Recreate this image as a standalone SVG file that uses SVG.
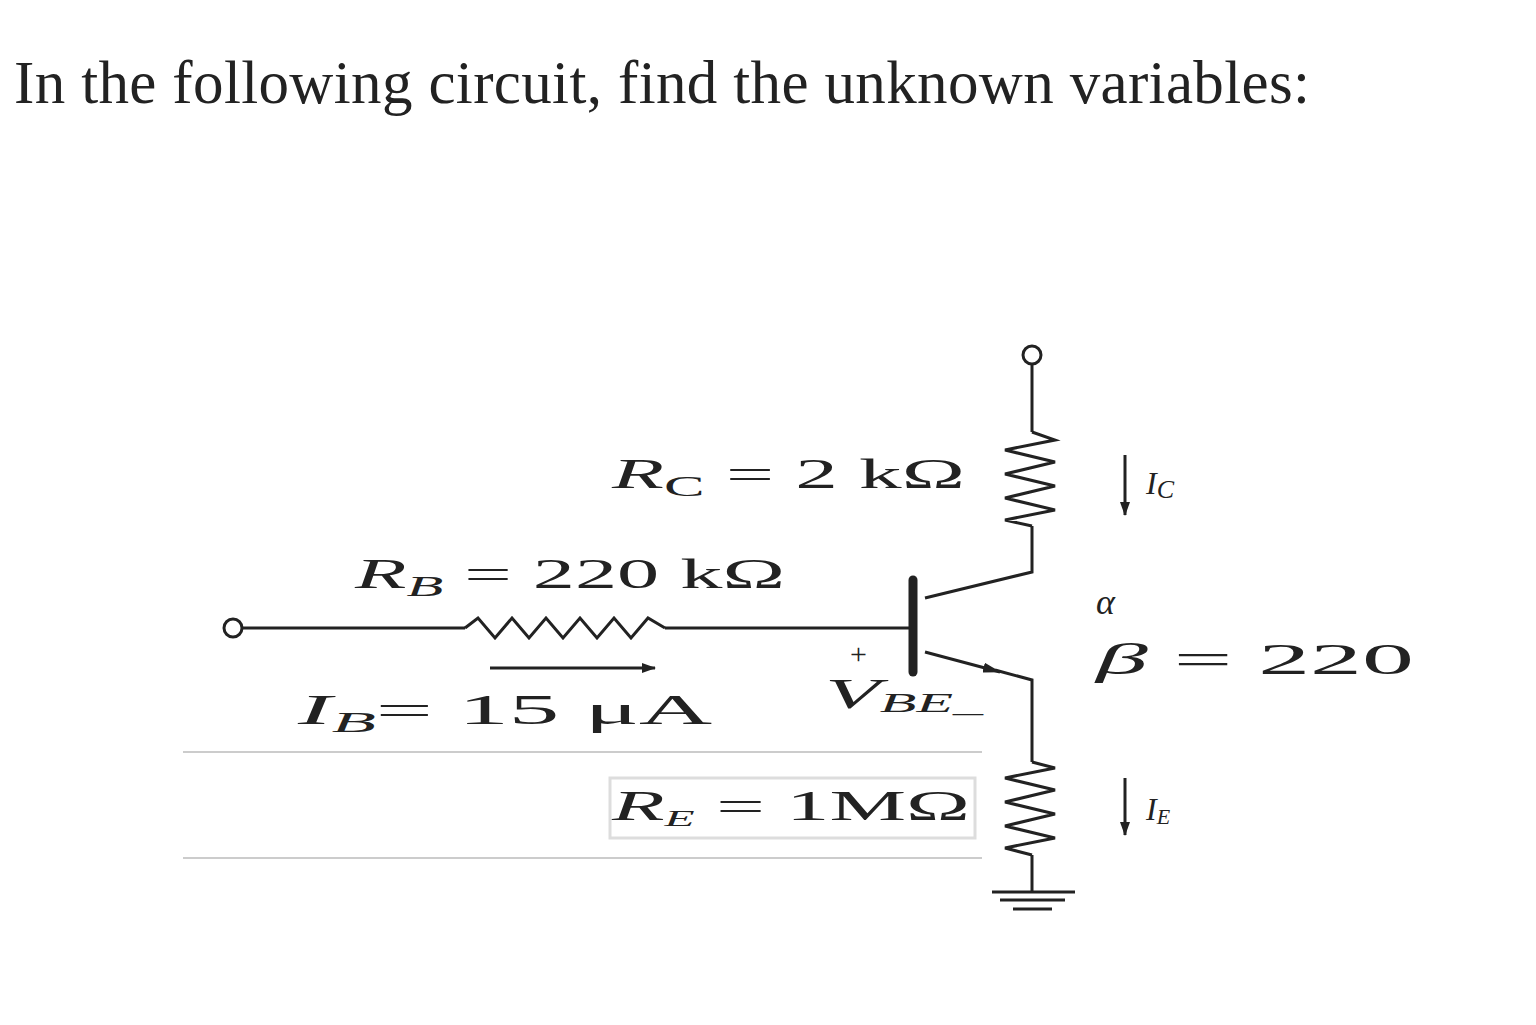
<svg xmlns="http://www.w3.org/2000/svg" width="1536" height="1025" viewBox="0 0 1536 1025">
<defs>
<marker id="ah" markerWidth="14" markerHeight="10" refX="13" refY="5" orient="auto" markerUnits="userSpaceOnUse"><path d="M0,0 L14,5 L0,10 Z" fill="#222"/></marker>
<marker id="ah2" markerWidth="18" markerHeight="10" refX="17" refY="5" orient="auto" markerUnits="userSpaceOnUse"><path d="M0,0 L18,5 L0,10 Z" fill="#222"/></marker>
</defs>
<style>
.w{stroke:#222;stroke-width:3;fill:none}
.t{font-family:"Liberation Serif",serif;fill:#222}
.g{stroke:#ccc;stroke-width:2;fill:none}
</style>
<rect width="1536" height="1025" fill="#fff"/>
<text class="t" x="14" y="103" font-size="61" fill="#000" textLength="1296">In the following circuit, find the unknown variables:</text>
<g id="guides">
<line class="g" x1="183" y1="752" x2="982" y2="752"/>
<line class="g" x1="183" y1="858" x2="982" y2="858"/>
<rect x="610" y="778" width="365" height="60" fill="none" stroke="#ddd" stroke-width="3"/>
</g>
<g id="connectors">
<circle class="w" cx="233" cy="628" r="9" stroke-width="2.5"/>
<line class="w" x1="242" y1="628" x2="465" y2="628" stroke-width="2"/>
<polyline class="w" points="465,628 478,618 495,638 512,618 529,638 546,618 563,638 580,618 597,638 614,618 631,638 648,618 665,628"/>
<line class="w" x1="665" y1="628" x2="913" y2="628" stroke-width="2"/>
<circle class="w" cx="1032" cy="355" r="9" stroke-width="2.5"/>
<line class="w" x1="1032" y1="364" x2="1032" y2="432" stroke-width="4"/>
<polyline class="w" points="1032,432 1055,440 1005,450 1055,462 1005,474 1055,486 1005,498 1055,510 1005,520 1032,526"/>
<polyline class="w" points="1032,526 1032,572 925,598"/>
<line x1="913" y1="580" x2="913" y2="672" stroke="#222" stroke-width="9" stroke-linecap="round"/>
<line class="w" x1="925" y1="652" x2="1000" y2="672" marker-end="url(#ah2)"/>
<polyline class="w" points="995,670 1032,680 1032,762"/>
<polyline class="w" points="1032,762 1055,768 1005,778 1055,790 1005,802 1055,814 1005,826 1055,838 1005,848 1032,855"/>
<line class="w" x1="1032" y1="855" x2="1032" y2="892"/>
<line class="w" x1="992" y1="892" x2="1075" y2="892"/>
<line class="w" x1="1000" y1="900" x2="1065" y2="900"/>
<line class="w" x1="1013" y1="909" x2="1052" y2="909"/>
<line class="w" x1="490" y1="668" x2="655" y2="668" stroke-width="3" marker-end="url(#ah)"/>
<line class="w" x1="1125" y1="455" x2="1125" y2="515" stroke-width="3" marker-end="url(#ah)"/>
<line class="w" x1="1125" y1="778" x2="1125" y2="835" stroke-width="3" marker-end="url(#ah)"/>
</g>
<g id="labels" class="t" font-size="42">
<text x="612" y="488" textLength="353" lengthAdjust="spacingAndGlyphs"><tspan font-style="italic">R</tspan><tspan font-size="30" dy="8">C</tspan><tspan dy="-8"> = 2 kΩ</tspan></text>
<text x="355" y="588" textLength="430" lengthAdjust="spacingAndGlyphs"><tspan font-style="italic">R</tspan><tspan font-size="30" font-style="italic" dy="8">B</tspan><tspan dy="-8"> = 220 kΩ</tspan></text>
<text x="298" y="724" textLength="414" lengthAdjust="spacingAndGlyphs"><tspan font-style="italic">I</tspan><tspan font-size="30" font-style="italic" dy="8">B</tspan><tspan dy="-8">= 15 μA</tspan></text>
<text x="850" y="664" font-size="30">+</text>
<text x="825" y="708" textLength="158" lengthAdjust="spacingAndGlyphs"><tspan font-style="italic">V</tspan><tspan font-size="28" font-style="italic" dy="4">BE</tspan><tspan font-size="28">_</tspan></text>
<text x="612" y="820" textLength="358" lengthAdjust="spacingAndGlyphs"><tspan font-style="italic">R</tspan><tspan font-size="24" font-style="italic" dy="6">E</tspan><tspan dy="-6"> = 1MΩ</tspan></text>
<text x="1096" y="614" font-style="italic" font-size="36">α</text>
<text x="1096" y="674" font-size="44" textLength="318" lengthAdjust="spacingAndGlyphs"><tspan font-style="italic">β</tspan> = 220</text>
<text x="1146" y="494" font-size="32" font-style="italic">I<tspan font-size="26" dy="4">C</tspan></text>
<text x="1146" y="820" font-size="32" font-style="italic">I<tspan font-size="22" dy="4">E</tspan></text>
</g>
</svg>
